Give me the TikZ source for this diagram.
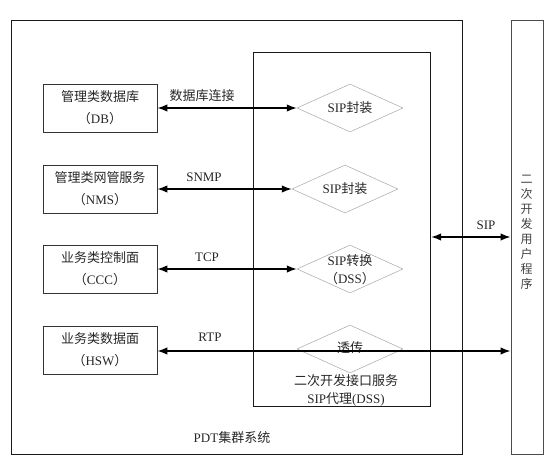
\documentclass[tikz,border=0pt]{standalone}
\usepackage{fontspec}
\setmainfont{Liberation Serif}
\newfontfamily\cjk{Noto Sans CJK SC}
\usetikzlibrary{shapes.geometric,arrows.meta}
\begin{document}
\begin{tikzpicture}[x=1pt,y=-1pt,
  txt/.style={font=\fontsize{13}{22}\selectfont, text=black!85, inner sep=0pt, align=center},
  frame/.style={draw=black!90, line width=1.2pt, inner sep=0pt},
  leftbox/.style={draw=black!80, line width=0.8pt, minimum width=114pt, minimum height=48pt, inner sep=0pt, align=center, font=\fontsize{13}{22}\selectfont, text=black!85},
  dia/.style={diamond, draw=black!35, line width=0.5pt, minimum width=106pt, minimum height=48pt, inner sep=0pt},
  biarrow/.style={line width=1.4pt, {Latex[length=10pt,width=7.5pt]}-{Latex[length=10pt,width=7.5pt]}}
]
\useasboundingbox (0,0) rectangle (560,466);
% outer frames
\node[frame, anchor=north west, minimum width=451pt, minimum height=434pt] (pdt) at (11,20) {};
\node[frame, anchor=north west, minimum width=177pt, minimum height=354pt] (proxy) at (253,52) {};
\node[draw=black!70, line width=0.8pt, anchor=north west, minimum width=32pt, minimum height=434pt, inner sep=0pt] (app) at (510.5,20) {};
% left boxes
\node[leftbox] (db) at (100,108) {{\cjk 管理类数据库}\\{\cjk （}DB{\cjk ）}};
\node[leftbox] (nms) at (100,189) {{\cjk 管理类网管服务}\\{\cjk （}NMS{\cjk ）}};
\node[leftbox] (ccc) at (100,269) {{\cjk 业务类控制面}\\{\cjk （}CCC{\cjk ）}};
\node[leftbox] (hsw) at (100,350) {{\cjk 业务类数据面}\\{\cjk （}HSW{\cjk ）}};
% diamonds
\node[dia] (d1) at (350,108) {};
\node[dia] (d2) at (345,189) {};
\node[dia] (d3) at (350,269) {};
\node[dia] (d4) at (350,349) {};
\node[txt] (t1) at (350,108) {SIP{\cjk 封装}};
\node[txt] (t2) at (345,189) {SIP{\cjk 封装}};
\node[txt, font=\fontsize{13}{18}\selectfont] (t3) at (350,270) {SIP{\cjk 转换}\\{\cjk （}DSS{\cjk ）}};
\node[txt] (t4) at (350,348) {\cjk 透传};
% connectors
\draw[biarrow] (db.east) -- (d1.west);
\draw[biarrow] (nms.east) -- (d2.west);
\draw[biarrow] (ccc.east) -- (d3.west);
\coordinate (rtpy) at (200,351);
\draw[biarrow] (hsw.east |- rtpy) -- (app.west |- rtpy);
\coordinate (sipy) at (470,237);
\draw[biarrow] (proxy.east |- sipy) -- (app.west |- sipy);
% labels
\node[txt] (l1) at (202,96) {\cjk 数据库连接};
\node[txt] (l2) at (204,177) {SNMP};
\node[txt] (l3) at (207,257) {TCP};
\node[txt] (l4) at (210,337) {RTP};
\node[txt] (l5) at (486,225) {SIP};
\node[txt, font=\fontsize{13}{18}\selectfont] (pl) at (346,390) {{\cjk 二次开发接口服务}\\SIP{\cjk 代理}(DSS)};
\node[txt] (pdtl) at (232,438) {PDT{\cjk 集群系统}};
\node[txt, font=\cjk\fontsize{12}{15}\selectfont, text=black!75] (appl) at (526.5,232) {二\\次\\开\\发\\用\\户\\程\\序};
\end{tikzpicture}
\end{document}
